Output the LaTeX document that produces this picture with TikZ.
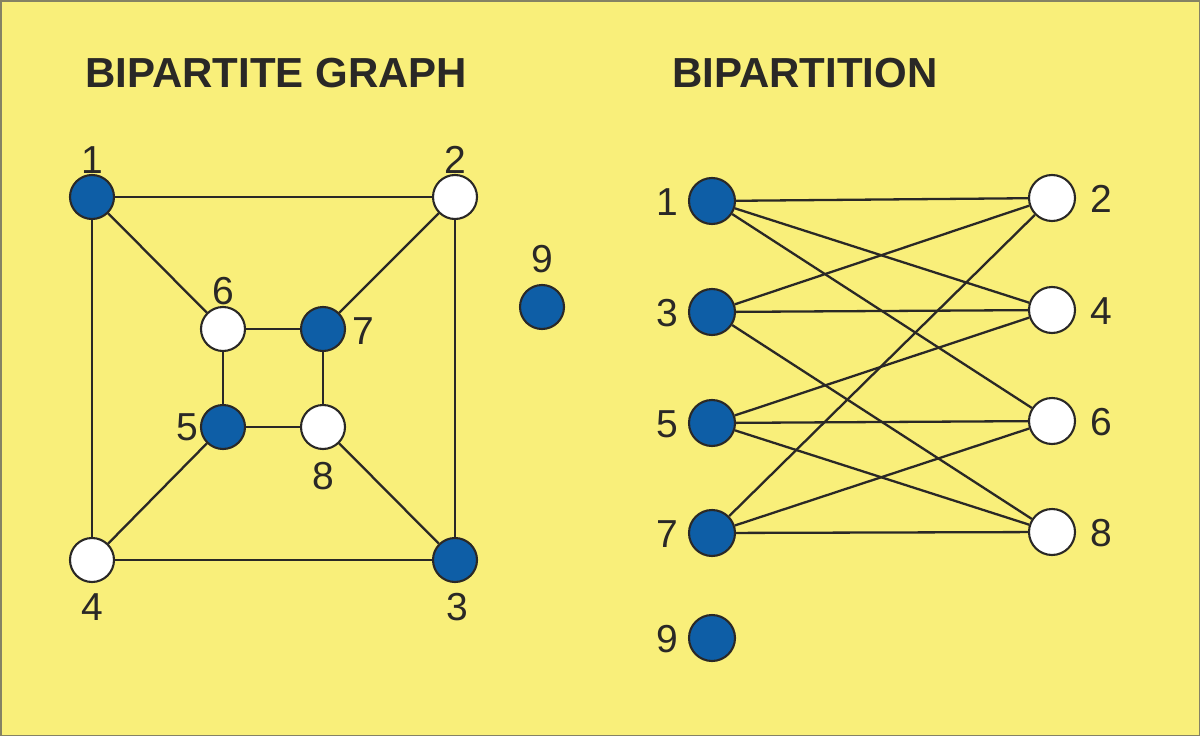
\documentclass[tikz,border=0pt]{standalone}
\usepackage{fontspec}
\setmainfont{Liberation Sans}
\usepackage{tikz}
\usetikzlibrary{calc,positioning,backgrounds}
\pgfdeclarelayer{back}
\pgfsetlayers{background,back,main}

\definecolor{bgyellow}{HTML}{F9EF7A}
\definecolor{vblue}{HTML}{0E5EA6}
\definecolor{inkdark}{HTML}{2A2826}
\definecolor{frame}{HTML}{858264}

\tikzset{
  vtx/.style={circle,draw=inkdark,line width=2.1pt,inner sep=0pt,minimum size=#1},
  vtx/.default=44pt,
  blue vtx/.style={vtx=#1,fill=vblue},
  blue vtx/.default=44pt,
  white vtx/.style={vtx=#1,fill=white},
  white vtx/.default=44pt,
  num/.style={inner sep=0pt,text=inkdark,font=\fontsize{39}{42}\selectfont},
  title/.style={inner sep=0pt,anchor=base west,text=inkdark,font=\fontsize{42}{45}\selectfont\bfseries},
  edge/.style={draw=inkdark,line width=2.3pt}
}

\begin{document}
\begin{tikzpicture}[x=1pt,y=-1pt]

  \begin{pgfonlayer}{background}
    \fill[bgyellow] (0,0) rectangle (1200,736);
  \end{pgfonlayer}
  \draw[frame,line width=1.5pt] (0.75,0.75) rectangle (1199.25,735.25);
  \useasboundingbox (0,0) rectangle (1200,736);

  \node (title_l) [title] at(85,87) {BIPARTITE GRAPH};
  \node (title_r) [title] at(672,87) {BIPARTITION};

  %% left: the graph itself
  \foreach \i/\x/\y/\c in {1/92/197/blue,2/455/197/white,3/455/560/blue,4/92/560/white,
                           5/223/427/blue,6/223/329/white,7/323/329/blue,8/323/427/white,
                           9/542/307/blue}
           {
             \node (lnode_\i) [\c\space vtx] at(\x,\y) {};
           }

  \foreach \i/\x/\y in {1/92/160,2/455/160,3/457/607,4/92/607,5/187/427,
                        6/223/291,7/363/331,8/323/476,9/542/259}
           {
             \node (llab_\i) [num] at(\x,\y) {\i};
           }

  \begin{pgfonlayer}{back}
  \foreach \a/\b in {1/2,1/4,1/6,2/3,2/7,3/4,3/8,4/5,5/6,5/8,6/7,7/8}
           {
             \path[edge] (lnode_\a) -- (lnode_\b);
           }
  \end{pgfonlayer}

  %% right: the two parts
  \foreach \i/\y in {1/201,3/312,5/423,7/533,9/638}
           {
             \node (rnode_\i) [blue vtx=46pt] at(712,\y) {};
             \node (rlab_\i) [num] at($(rnode_\i)+(-45,1)$) {\i};
           }
  \foreach \i/\y in {2/198,4/310,6/421,8/532}
           {
             \node (rnode_\i) [white vtx=46pt] at(1052,\y) {};
             \node (rlab_\i) [num] at($(rnode_\i)+(49,1)$) {\i};
           }

  \begin{pgfonlayer}{back}
  \foreach \a/\b in {1/2,1/4,1/6,3/2,3/4,3/8,5/4,5/6,5/8,7/2,7/6,7/8}
           {
             \path[edge] (rnode_\a) -- (rnode_\b);
           }
  \end{pgfonlayer}

\end{tikzpicture}
\end{document}
